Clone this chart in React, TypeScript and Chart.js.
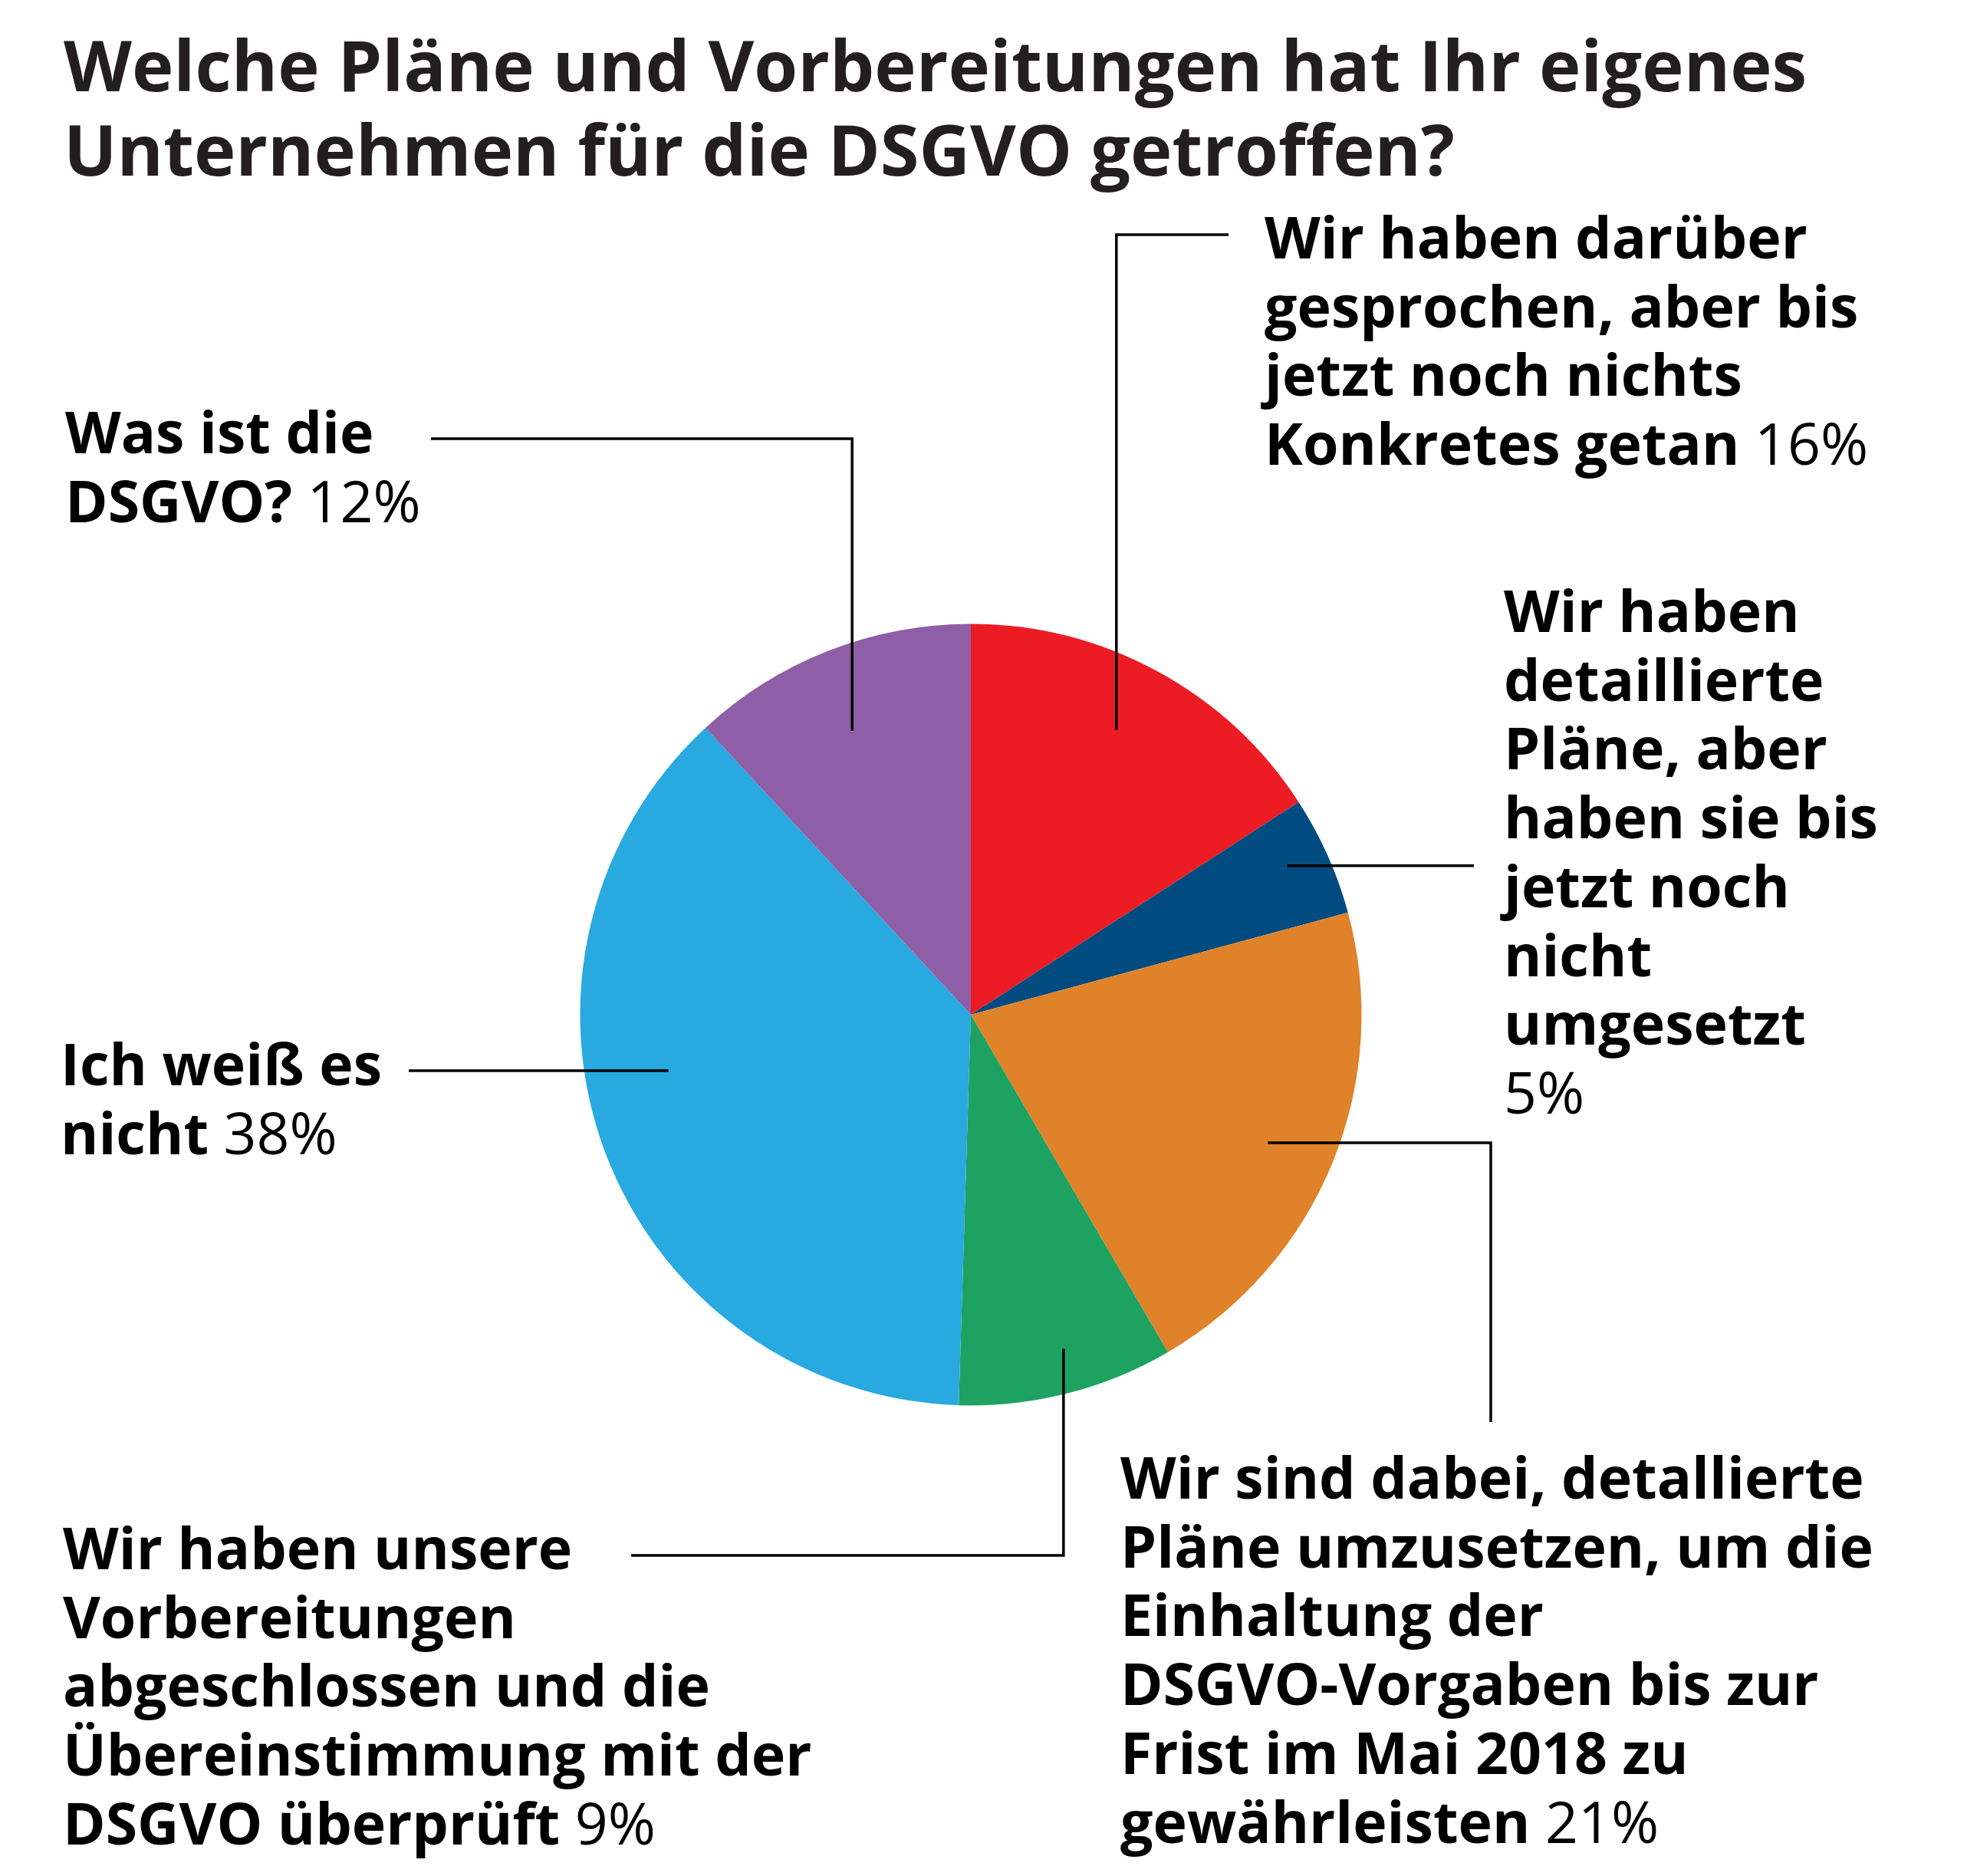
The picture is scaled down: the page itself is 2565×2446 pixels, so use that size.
import { useEffect, useRef } from "react";
import { Chart, registerables } from "chart.js";

Chart.register(...registerables);

const titleLines = [
  "Welche Pläne und Vorbereitungen hat Ihr eigenes",
  "Unternehmen für die DSGVO getroffen?",
];

const categories = [
  "Wir haben darüber gesprochen, aber bis jetzt noch nichts Konkretes getan",
  "Wir haben detaillierte Pläne, aber haben sie bis jetzt noch nicht umgesetzt",
  "Wir sind dabei, detallierte Pläne umzusetzen, um die Einhaltung der DSGVO-Vorgaben bis zur Frist im Mai 2018 zu gewährleisten",
  "Wir haben unsere Vorbereitungen abgeschlossen und die Übereinstimmung mit der DSGVO überprüft",
  "Ich weiß es nicht",
  "Was ist die DSGVO?",
];

const values = [16, 5, 21, 9, 38, 12];

const labelLines = [
  ["Wir haben darüber", "gesprochen, aber bis", "jetzt noch nichts", "Konkretes getan"],
  ["Wir haben", "detaillierte", "Pläne, aber", "haben sie bis", "jetzt noch", "nicht", "umgesetzt", ""],
  ["Wir sind dabei, detallierte", "Pläne umzusetzen, um die", "Einhaltung der", "DSGVO-Vorgaben bis zur", "Frist im Mai 2018 zu", "gewährleisten"],
  ["Wir haben unsere", "Vorbereitungen", "abgeschlossen und die", "Übereinstimmung mit der", "DSGVO überprüft"],
  ["Ich weiß es", "nicht"],
  ["Was ist die", "DSGVO?"],
];

const colors = ["#ED1C24", "#004B80", "#E0822A", "#1EA261", "#28A9E0", "#8E5FA6"];

// label layout (x, first baseline) and leader routing
type Layout = {
  x: number;
  y: number;
  t: number;
  rf: number;
  first: "h" | "v";
  to1: number;
  to2?: number;
};
const layouts: Layout[] = [
  { x: 1649, y: 337, t: 0.475, rf: 0.818, first: "v", to1: 306, to2: 1602 },
  { x: 1961, y: 824, t: 0.436, rf: 0.895, first: "h", to1: 1922 },
  { x: 1461, y: 1954, t: 0.514, rf: 0.828, first: "h", to1: 1944, to2: 1854 },
  { x: 82, y: 2046, t: 0.461, rf: 0.887, first: "v", to1: 2028, to2: 823 },
  { x: 79, y: 1415, t: 0.574, rf: 0.787, first: "h", to1: 533 },
  { x: 85, y: 591, t: 0.469, rf: 0.787, first: "v", to1: 572, to2: 562 },
];

const FONT = '"Open Sans", "Noto Sans", sans-serif';
const LINE_H = 89.7;
const LABEL_SIZE = 75.2;
const TITLE_SIZE = 92;

const W = 2565;
const H = 2446;

const annotations = {
  id: "annotations",
  afterDraw(chart: any) {
    const ctx = chart.ctx as CanvasRenderingContext2D;
    ctx.save();
    // title
    ctx.fillStyle = "#231F20";
    ctx.font = `700 ${TITLE_SIZE}px ${FONT}`;
    ctx.textBaseline = "alphabetic";
    ctx.textAlign = "left";
    titleLines.forEach((l, i) => ctx.fillText(l, 83, 119 + i * 110));

    const arcs = chart.getDatasetMeta(0).data;
    arcs.forEach((arc: any, i: number) => {
      const lay = layouts[i];
      const { x, y, startAngle, endAngle, outerRadius } = arc.getProps(
        ["x", "y", "startAngle", "endAngle", "outerRadius"],
        true
      );
      const th = startAngle + lay.t * (endAngle - startAngle);
      const ax = x + Math.cos(th) * outerRadius * lay.rf;
      const ay = y + Math.sin(th) * outerRadius * lay.rf;
      const pts: [number, number][] = [[ax, ay]];
      if (lay.first === "v") {
        pts.push([ax, lay.to1]);
        if (lay.to2 !== undefined) pts.push([lay.to2, lay.to1]);
      } else {
        pts.push([lay.to1, ay]);
        if (lay.to2 !== undefined) pts.push([lay.to1, lay.to2]);
      }
      ctx.strokeStyle = "#000";
      ctx.lineWidth = 3.5;
      ctx.lineCap = "butt";
      ctx.lineJoin = "miter";
      ctx.beginPath();
      pts.forEach((p, k) => (k === 0 ? ctx.moveTo(p[0], p[1]) : ctx.lineTo(p[0], p[1])));
      ctx.stroke();

      // label text
      const lines = labelLines[i];
      ctx.fillStyle = "#000";
      lines.forEach((line, k) => {
        const by = lay.y + k * LINE_H;
        ctx.font = `700 ${LABEL_SIZE}px ${FONT}`;
        let w = 0;
        if (line) {
          ctx.fillText(line, lay.x, by);
          w = ctx.measureText(line + " ").width;
        }
        if (k === lines.length - 1) {
          ctx.font = `400 ${LABEL_SIZE}px ${FONT}`;
          ctx.fillText(`${values[i]}%`, lay.x + w, by);
        }
      });
    });
    ctx.restore();
  },
};

export default function App() {
  const ref = useRef<HTMLCanvasElement | null>(null);
  useEffect(() => {
    let chart: Chart | null = null;
    let cancelled = false;
    const cx = 1266;
    const cy = 1323;
    const r = 509.5;
    const make = () => {
      if (cancelled || !ref.current) return;
      chart = new Chart(ref.current, {
        type: "pie",
        data: {
          labels: categories,
          datasets: [
            {
              data: values,
              backgroundColor: colors,
              borderWidth: 0,
            },
          ],
        },
        options: {
          responsive: false,
          animation: false,
          layout: {
            padding: {
              left: cx - r,
              top: cy - r,
              right: W - (cx + r),
              bottom: H - (cy + r),
            },
          },
          plugins: {
            legend: { display: false },
            tooltip: { enabled: false },
          },
        },
        plugins: [annotations],
      });
    };
    const fonts = (document as any).fonts;
    if (fonts && fonts.load) {
      Promise.all([
        fonts.load(`700 76px "Open Sans"`),
        fonts.load(`400 76px "Open Sans"`),
      ])
        .catch(() => null)
        .then(make);
    } else {
      make();
    }
    return () => {
      cancelled = true;
      if (chart) chart.destroy();
    };
  }, []);
  return (
    <div style={{ position: "absolute", left: 0, top: 0, width: W, height: H, background: "#fff" }}>
      <canvas ref={ref} width={W} height={H} style={{ display: "block", width: W, height: H }} />
    </div>
  );
}
